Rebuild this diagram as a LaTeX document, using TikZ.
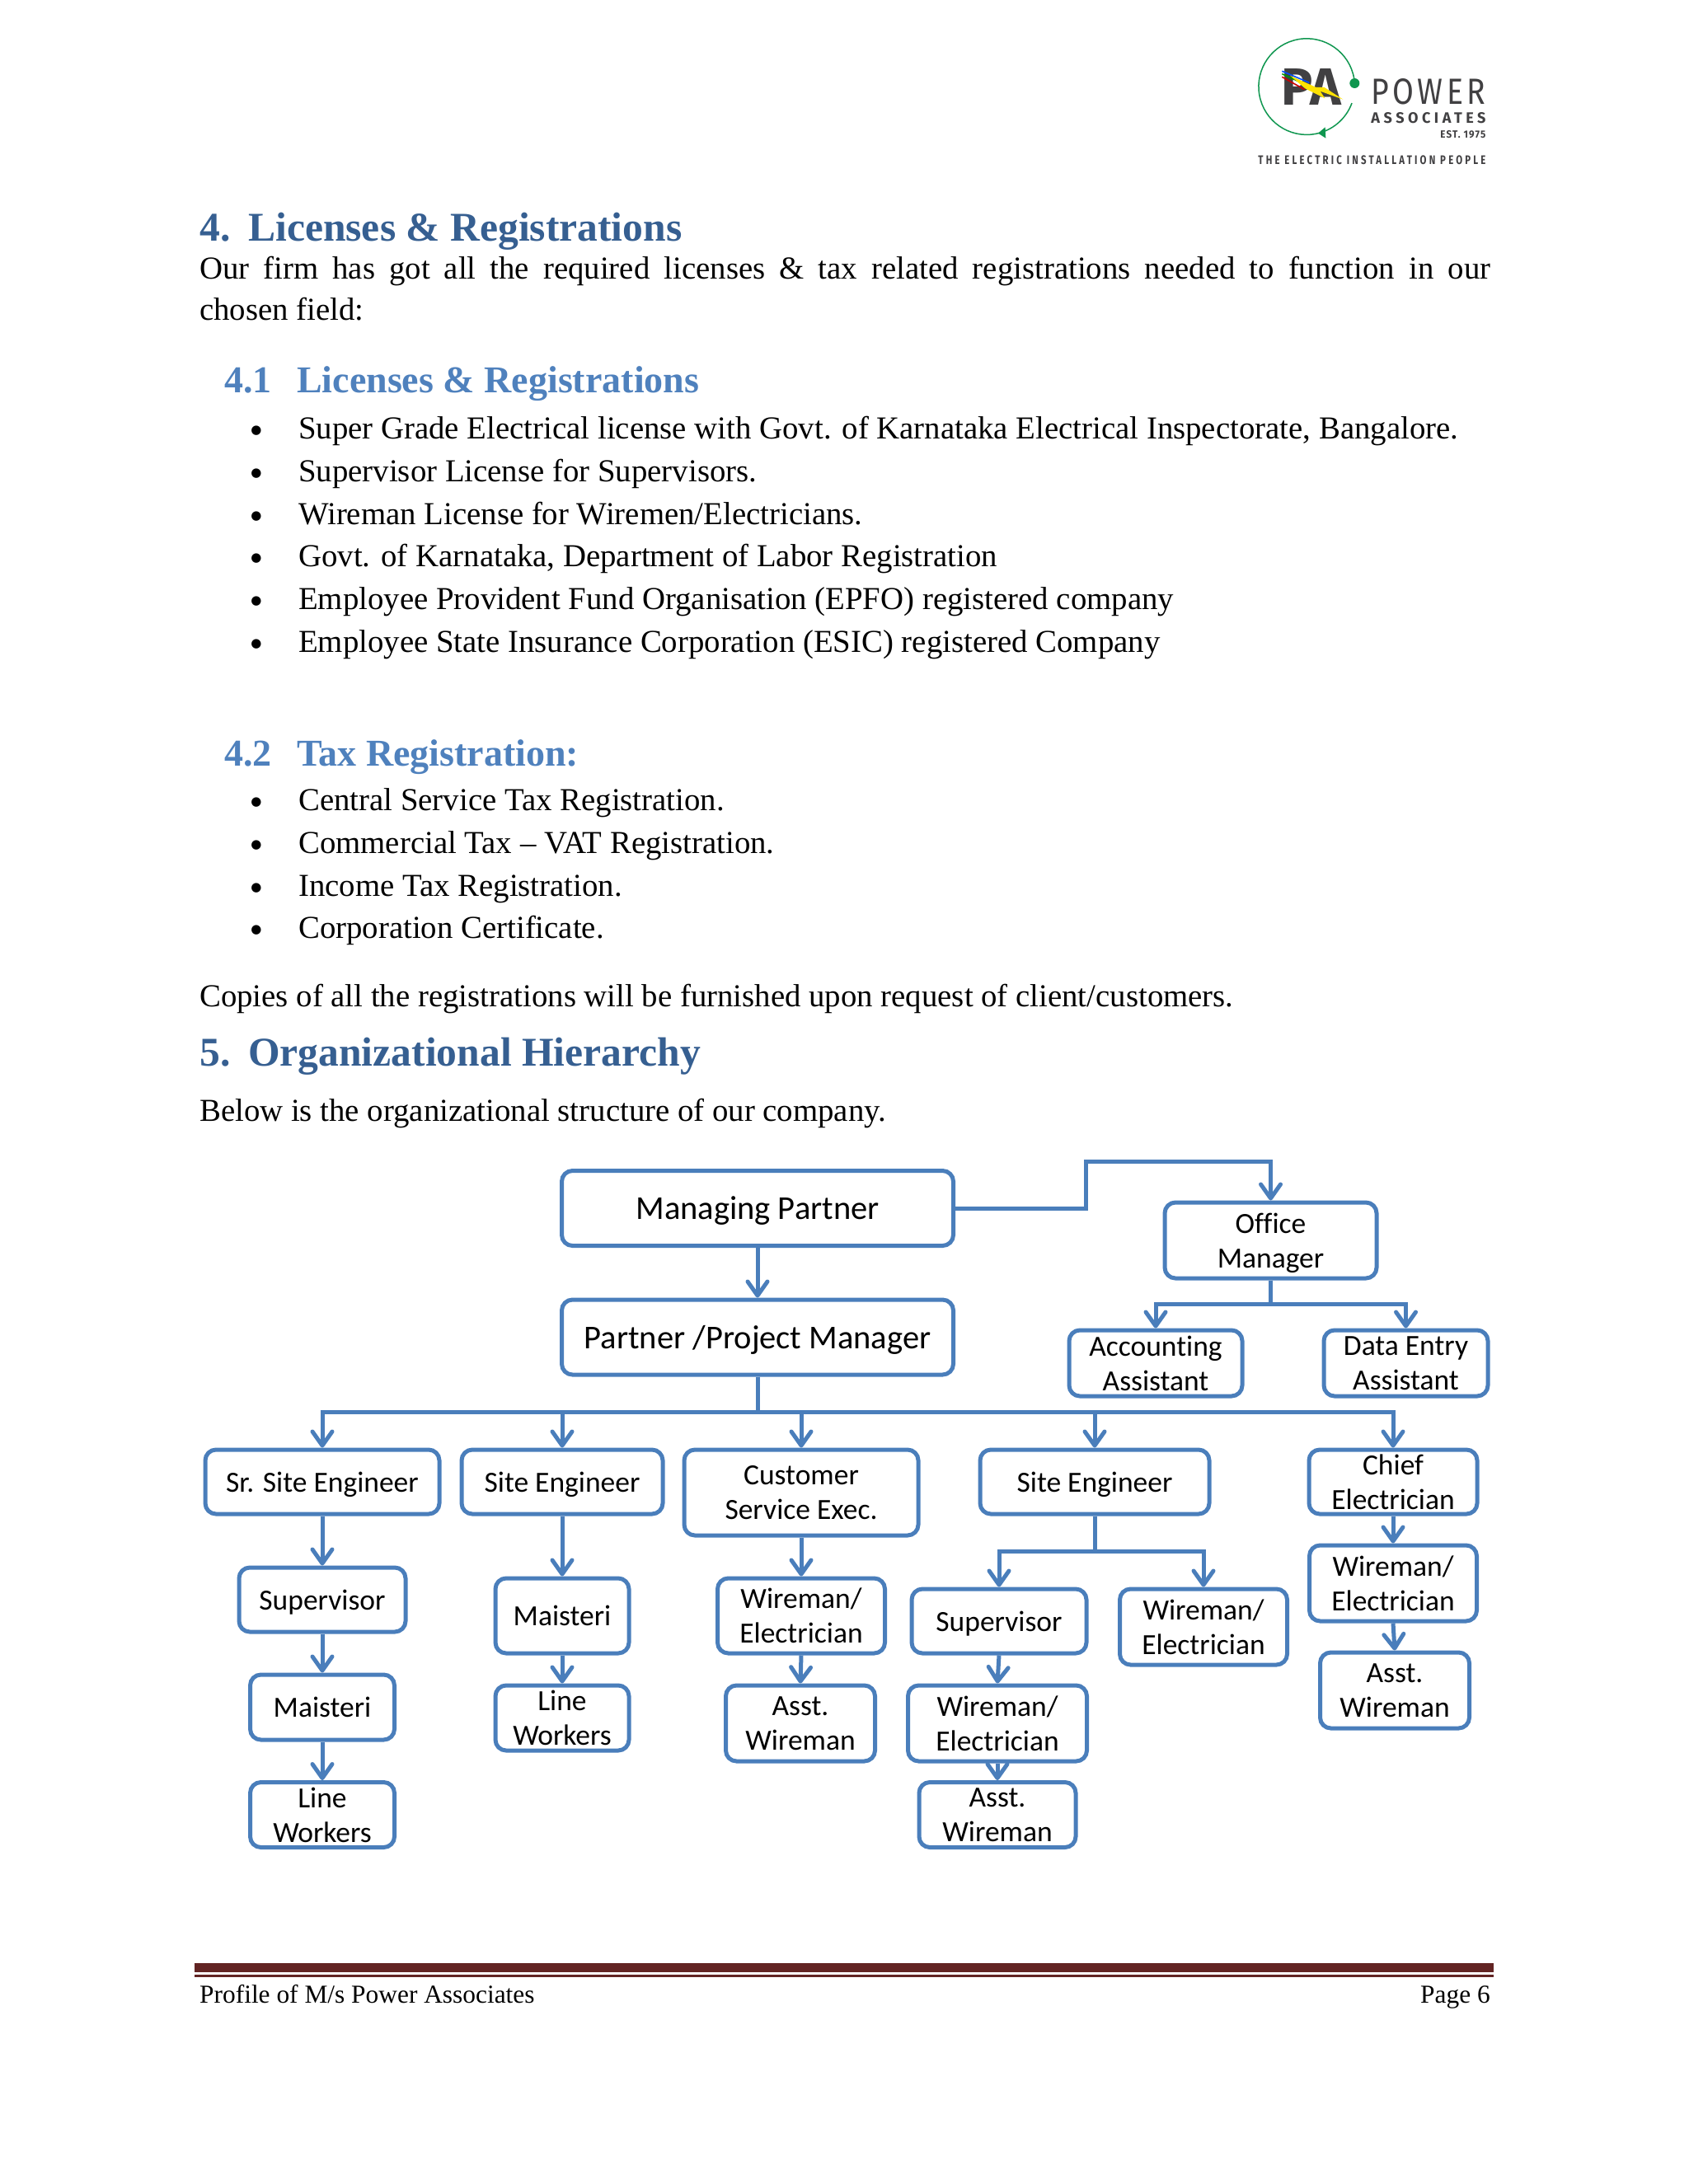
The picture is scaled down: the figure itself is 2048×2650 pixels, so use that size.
\documentclass[tikz,border=0pt]{standalone}
\usepackage{fontspec}
\setmainfont{Liberation Serif}
\newfontfamily\orgfont[Ligatures=CommonOff]{Carlito}
\newfontfamily\logofont{Fira Sans}
\newfontfamily\dotfont{DejaVu Sans}
\usetikzlibrary{arrows.meta}

\definecolor{boxblue}{HTML}{4A7EBB}
\definecolor{headblue}{HTML}{365F91}
\definecolor{subblue}{HTML}{4F81BD}
\definecolor{footred}{HTML}{622423}
\definecolor{logogreen}{HTML}{0F964F}
\definecolor{logogray}{HTML}{414042}

\tikzset{
    bodytext/.style = {anchor = base west, inner sep = 0pt, font = \fontsize{38.8}{50}\selectfont},
    dotmark/.style = {anchor = base, inner sep = 0pt, font = \dotfont\fontsize{15}{15}\selectfont},
    headtext/.style = {anchor = base west, inner sep = 0pt, text = headblue, font = \fontsize{49.6}{50}\selectfont\bfseries},
    subtext/.style = {anchor = base west, inner sep = 0pt, text = subblue, font = \fontsize{46}{50}\selectfont\bfseries},
    foottext/.style = {inner sep = 0pt, font = \fontsize{31.4}{40}\selectfont},
    orgbox/.style = {draw = boxblue, line width = 5pt, rounded corners = 13pt, inner sep = 0pt, align = center, text depth = -2pt, font = \orgfont\fontsize{35.5}{42}\selectfont},
    bigbox/.style = {orgbox, minimum width = 475pt, minimum height = 91pt, font = \orgfont\fontsize{40.5}{42}\selectfont},
    link/.style = {draw = boxblue, line width = 5pt},
    logotext/.style = {inner sep = 0pt, anchor = east, text = logogray, font = \logofont\bfseries}
}

\begin{document}
\begin{tikzpicture}[x = 1pt, y = -1pt, >={Straight Barb[length = 17pt, width = 24pt, line width = 5pt, round]}]
    \useasboundingbox (0, 0) rectangle (2048, 2650);

    % logo
    \begin{scope}[shift = {(1450, 20)}, x = .3333pt, y = -.3333pt]
        \draw [logogreen, line width = 1.5pt] (578, 225) arc [start angle = 10, end angle = 340, radius = 58.3pt];
        \fill [logogreen] (580, 243) circle (6pt);
        \fill [logogreen] (447, 425) -- (473, 403) -- (475, 443) -- cycle;
        \node (pa) [inner sep = 0pt, text = logogray, font = \logofont\bfseries] at (422, 257) {\resizebox{72pt}{44pt}{PA}};
        \draw [blue!70!cyan, line width = 1.6pt] (316, 199) -- (415, 241);
        \draw [green!60!black, line width = 1.6pt] (316, 209) -- (410, 252);
        \draw [red!80!black, line width = 1.6pt] (316, 220) -- (398, 266);
        \fill [yellow!85!orange] (345, 215) -- (440, 258) -- (470, 258) -- (538, 302) -- (455, 272) -- (472, 298) -- (400, 262) -- cycle;
        \node (power) [logotext, font = \logofont\addfontfeature{LetterSpace = 12}] at (1058, 274) {\resizebox{139pt}{31pt}{POWER}};
        \node (assoc) [logotext, font = \logofont\bfseries\addfontfeature{LetterSpace = 25}] at (1058, 369) {\resizebox{139pt}{13pt}{ASSOCIATES}};
        \node (est) [logotext, font = \logofont\bfseries\addfontfeature{LetterSpace = 10}] at (1058, 431) {\resizebox{55pt}{9pt}{EST. 1975}};
        \node (slogan) [logotext, font = \logofont\bfseries\addfontfeature{LetterSpace = 28}] at (1058, 524) {\resizebox{276pt}{10.7pt}{THE ELECTRIC INSTALLATION PEOPLE}};
    \end{scope}

    % section 4
    \node (h4num) [headtext] at (242, 292) {4.};
    \node (h4) [headtext] at (301, 292) {Licenses \& Registrations};
    \node (intro1) [bodytext] at (242, 338.5) {\makebox[1566pt][s]{Our firm has got all the required licenses \& tax related registrations needed to function in our}};
    \node (intro2) [bodytext] at (242, 388.5) {chosen field:};

    \node (h41num) [subtext] at (272, 476.5) {4.1};
    \node (h41) [subtext] at (360, 476.5) {Licenses \& Registrations};
    \foreach \yy/\itemtext in {532.5/{Super Grade Electrical license with Govt. of Karnataka Electrical Inspectorate, Bangalore.},
        584.5/{Supervisor License for Supervisors.},
        636.5/{Wireman License for Wiremen/Electricians.},
        687.5/{Govt. of Karnataka, Department of Labor Registration},
        739.5/{Employee Provident Fund Organisation (EPFO) registered company},
        791.5/{Employee State Insurance Corporation (ESIC) registered Company},
        983.5/{Central Service Tax Registration.},
        1035.5/{Commercial Tax -- VAT Registration.},
        1087.5/{Income Tax Registration.},
        1138.5/{Corporation Certificate.}}{
        \node (dot\yy) [dotmark] at (311, \yy - 6) {●};
        \node (item\yy) [bodytext] at (362, \yy) {\itemtext};
    }

    \node (h42num) [subtext] at (272, 929) {4.2};
    \node (h42) [subtext] at (360, 929) {Tax Registration:};
    \node (copies) [bodytext] at (242, 1221.5) {Copies of all the registrations will be furnished upon request of client/customers.};

    % section 5
    \node (h5num) [headtext] at (242, 1293) {5.};
    \node (h5) [headtext] at (301, 1293) {Organizational Hierarchy};
    \node (below) [bodytext] at (242, 1360.5) {Below is the organizational structure of our company.};

    % top of the chart
    \node (mp) [bigbox] at (919, 1466) {Managing Partner};
    \node (pm) [bigbox] at (919, 1622.5) {Partner /Project Manager};
    \node (om) [orgbox, minimum width = 257pt, minimum height = 92pt] at (1541.5, 1505) {Office\\Manager};
    \node (aa) [orgbox, minimum width = 210pt, minimum height = 80pt] at (1402, 1654) {Accounting\\Assistant};
    \node (da) [orgbox, minimum width = 199pt, minimum height = 80pt] at (1705.5, 1654) {Data Entry\\Assistant};

    % second row
    \node (sr) [orgbox, minimum width = 284pt, minimum height = 78pt] at (391, 1798) {Sr. Site Engineer};
    \node (se1) [orgbox, minimum width = 244pt, minimum height = 78pt] at (682, 1798) {Site Engineer};
    \node (cs) [orgbox, minimum width = 284pt, minimum height = 104pt] at (972, 1811) {Customer\\Service Exec.};
    \node (se2) [orgbox, minimum width = 278pt, minimum height = 78pt] at (1328, 1798) {Site Engineer};
    \node (ce) [orgbox, minimum width = 204pt, minimum height = 78pt] at (1690, 1798) {Chief\\Electrician};

    % branches
    \node (sv1) [orgbox, minimum width = 202pt, minimum height = 78pt] at (391, 1941) {Supervisor};
    \node (ma1) [orgbox, minimum width = 175pt, minimum height = 79pt] at (391, 2071.5) {Maisteri};
    \node (lw1) [orgbox, minimum width = 175pt, minimum height = 79pt] at (391, 2202) {Line\\Workers};

    \node (ma2) [orgbox, minimum width = 162pt, minimum height = 91pt] at (682, 1960.5) {Maisteri};
    \node (lw2) [orgbox, minimum width = 162pt, minimum height = 79pt] at (682, 2084.5) {Line\\Workers};

    \node (we3) [orgbox, minimum width = 203pt, minimum height = 91pt] at (972, 1960.5) {Wireman/\\Electrician};
    \node (aw3) [orgbox, minimum width = 181pt, minimum height = 92pt] at (971, 2091) {Asst.\\Wireman};

    \node (sv2) [orgbox, minimum width = 212pt, minimum height = 78pt] at (1212, 1967) {Supervisor};
    \node (we5) [orgbox, minimum width = 203pt, minimum height = 92pt] at (1460, 1974) {Wireman/\\Electrician};
    \node (we4) [orgbox, minimum width = 217pt, minimum height = 92pt] at (1210, 2091) {Wireman/\\Electrician};
    \node (aw4) [orgbox, minimum width = 190pt, minimum height = 79pt] at (1210, 2202) {Asst.\\Wireman};

    \node (we6) [orgbox, minimum width = 203pt, minimum height = 92pt] at (1690, 1921) {Wireman/\\Electrician};
    \node (aw6) [orgbox, minimum width = 181pt, minimum height = 92pt] at (1692, 2051) {Asst.\\Wireman};

    % connectors
    \coordinate (up) at (1317, 1409);
    \coordinate (bus) at (919, 1713);
    \coordinate (busom) at (1541.5, 1582);
    \coordinate (bussite) at (1328, 1882.5);

    \draw [link, ->] (mp.south) -- (pm.north);
    \draw [link, ->] (mp.east) -| (up) -| (om.north);
    \foreach \nn in {aa, da}{
        \draw [link, ->] (om.south) -- (busom) -| (\nn.north);
    }
    \foreach \nn in {sr, se1, cs, se2, ce}{
        \draw [link, ->] (pm.south) -- (bus) -| (\nn.north);
    }
    \foreach \nn in {sv2, we5}{
        \draw [link, ->] (se2.south) -- (bussite) -| (\nn.north);
    }
    \foreach \aa/\bb in {sr/sv1, sv1/ma1, ma1/lw1, se1/ma2, ma2/lw2, cs/we3, we3/aw3, sv2/we4, we4/aw4, ce/we6, we6/aw6}{
        \draw [link, ->] (\aa.south) -- (\bb.north);
    }

    % footer
    \fill [footred] (236, 2382) rectangle (1812, 2393);
    \fill [footred] (236, 2396) rectangle (1812, 2399);
    \node (footl) [foottext, anchor = base west] at (242, 2430) {Profile of M/s Power Associates};
    \node (footr) [foottext, anchor = base east] at (1808, 2430) {Page 6};
\end{tikzpicture}
\end{document}
